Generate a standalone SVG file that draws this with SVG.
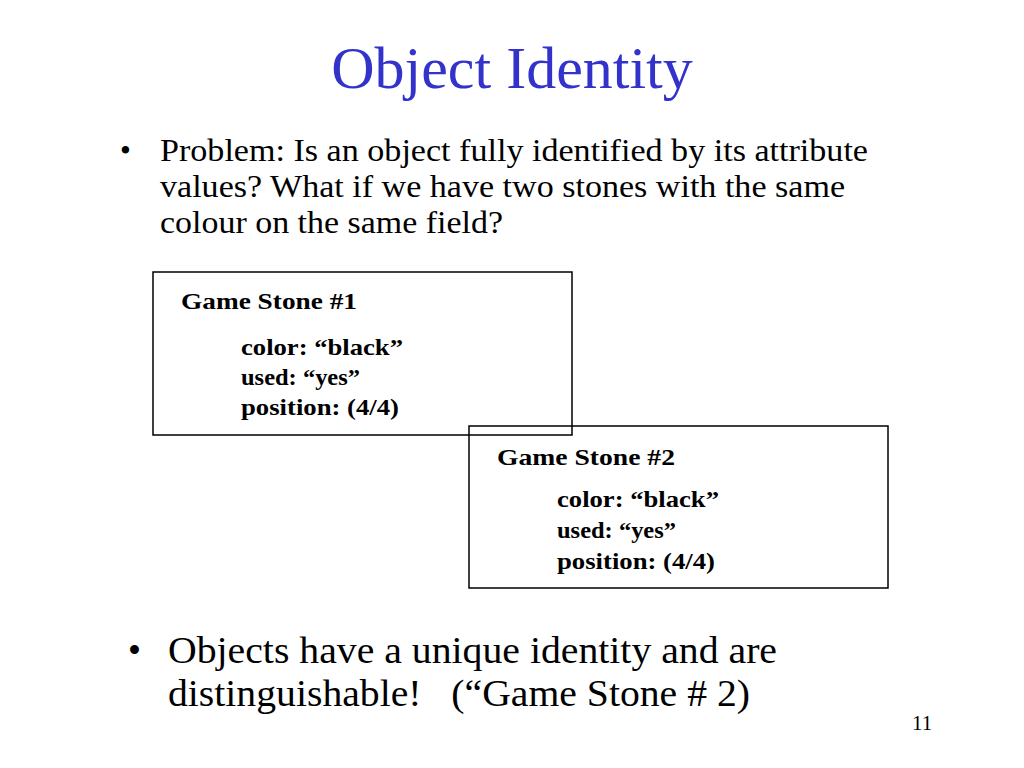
<svg xmlns="http://www.w3.org/2000/svg" width="1024" height="768" viewBox="0 0 1024 768">
<style>
text{font-family:"Liberation Serif","Times New Roman",serif;fill:#000}
.b{font-size:23px;font-weight:bold}
.t1{font-size:31px}
.t2{font-size:37px}
.box{fill:none;stroke:#000;stroke-width:1.5}
</style>
<rect width="1024" height="768" fill="#fff"/>
<text x="512" y="88" text-anchor="middle" style="font-size:60px;fill:#3333CC">Object Identity</text>
<text class="t1" x="120" y="161">•</text>
<text class="t1" x="160" y="161" textLength="708" lengthAdjust="spacingAndGlyphs">Problem: Is an object fully identified by its attribute</text>
<text class="t1" x="160" y="197" textLength="685" lengthAdjust="spacingAndGlyphs">values? What if we have two stones with the same</text>
<text class="t1" x="160" y="233" textLength="343" lengthAdjust="spacingAndGlyphs">colour on the same field?</text>
<g id="stone1">
<rect class="box" x="153" y="272" width="419" height="163"/>
<text class="b" x="181" y="309" textLength="176" lengthAdjust="spacingAndGlyphs">Game Stone #1</text>
<text class="b" x="241" y="355" textLength="162" lengthAdjust="spacingAndGlyphs">color: “black”</text>
<text class="b" x="241" y="385" textLength="119" lengthAdjust="spacingAndGlyphs">used: “yes”</text>
<text class="b" x="241" y="415" textLength="158" lengthAdjust="spacingAndGlyphs">position: (4/4)</text>
</g>
<g id="stone2">
<rect class="box" x="469" y="426" width="419" height="162"/>
<text class="b" x="497" y="465" textLength="178" lengthAdjust="spacingAndGlyphs">Game Stone #2</text>
<text class="b" x="557" y="507" textLength="162" lengthAdjust="spacingAndGlyphs">color: “black”</text>
<text class="b" x="557" y="538" textLength="119" lengthAdjust="spacingAndGlyphs">used: “yes”</text>
<text class="b" x="557" y="569" textLength="158" lengthAdjust="spacingAndGlyphs">position: (4/4)</text>
</g>
<g id="connectors"/>
<text class="t2" x="128" y="663">•</text>
<text class="t2" x="168" y="663" textLength="609" lengthAdjust="spacingAndGlyphs">Objects have a unique identity and are</text>
<text class="t2" x="168" y="706" xml:space="preserve" textLength="582" lengthAdjust="spacingAndGlyphs">distinguishable!   (“Game Stone # 2)</text>
<text x="912" y="730" style="font-size:21px">11</text>
</svg>
